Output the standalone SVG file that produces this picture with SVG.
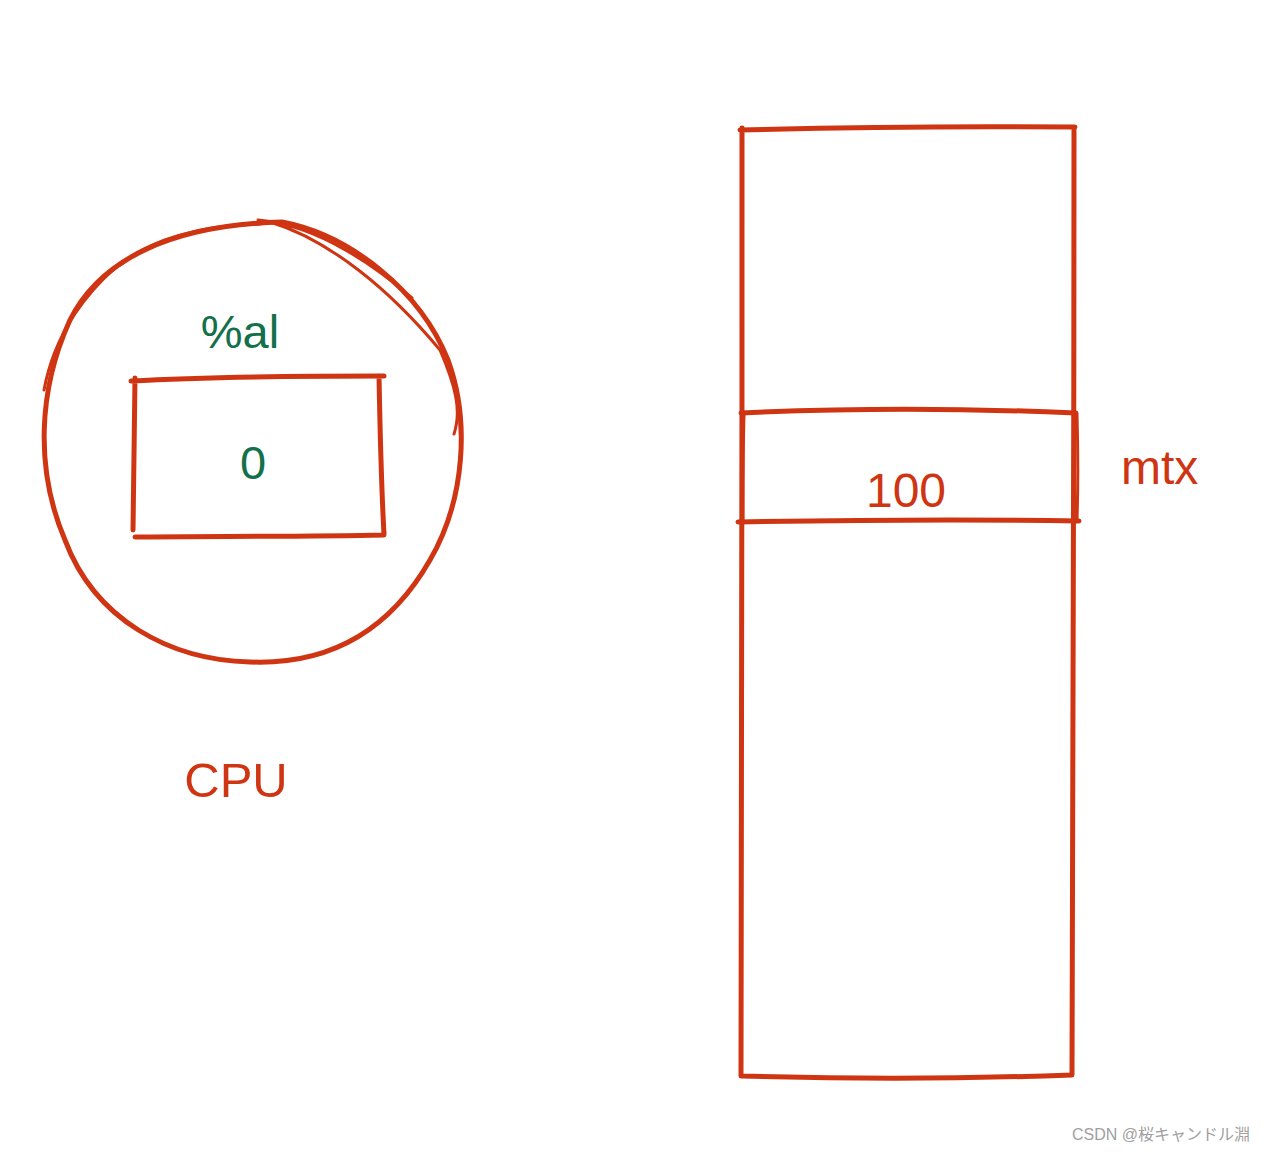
<svg xmlns="http://www.w3.org/2000/svg" width="1268" height="1152" viewBox="0 0 1268 1152">
<style>
.s{fill:none;stroke:#cf3512;stroke-linecap:round;stroke-linejoin:round}
.t{font-family:"Liberation Sans",Arial,sans-serif}
.red{fill:#cf3512}
.grn{fill:#13704a}
</style>
<rect width="1268" height="1152" fill="#fff"/>
<g id="cpu">
<path class="s" stroke-width="5" d="M282,222 C350,235 420,290 448,360 C470,420 465,500 430,560 C390,630 330,665 250,662 C170,660 95,620 65,540 C35,470 38,390 70,320 C100,260 170,225 282,222 Z"/>
<path class="s" stroke-width="3" d="M258,220 C320,225 380,270 412,298 M270,222 C330,240 390,290 440,350 C455,385 462,410 454,434 M120,265 C150,240 200,225 260,224 M44,390 C55,330 90,290 115,268"/>
</g>
<g id="al-reg">
<path class="s" stroke-width="5" d="M131,381 C200,377 300,376 384,376 M379,376 C380,430 381,480 384,534 M384,535 C300,537 200,536 135,537 M135,378 C134,430 134,480 133,530"/>
<text class="t grn" x="240" y="348" font-size="47" text-anchor="middle">%al</text>
<text class="t grn" x="253" y="479" font-size="47" text-anchor="middle">0</text>
</g>
<text id="cpu-label" class="t red" x="236" y="797" font-size="49" text-anchor="middle">CPU</text>
<g id="memory">
<path class="s" stroke-width="5" d="M740,130 C850,127 960,126 1075,127 M742,128 C742,450 742,800 741,1076 M741,1076 C850,1079 960,1079 1072,1075 M1074,127 C1074,450 1073,800 1072,1075"/>
<path class="s" stroke-width="5" d="M741,413 C850,408 960,408 1076,413 M738,522 C850,520 960,519 1079,521"/>
<path class="s" stroke-width="3" d="M744,415 C743,450 743,490 743,520 M1077,414 C1078,450 1078,490 1077,520"/>
<text class="t red" x="906" y="507" font-size="48" text-anchor="middle">100</text>
<text id="mtx-label" class="t red" x="1121" y="484" font-size="48">mtx</text>
</g>
<text x="1072" y="1140" font-size="16" fill="#a0a0a0" font-family="'Liberation Sans','Noto Sans CJK JP',sans-serif">CSDN @桜キャンドル淵</text>
</svg>
